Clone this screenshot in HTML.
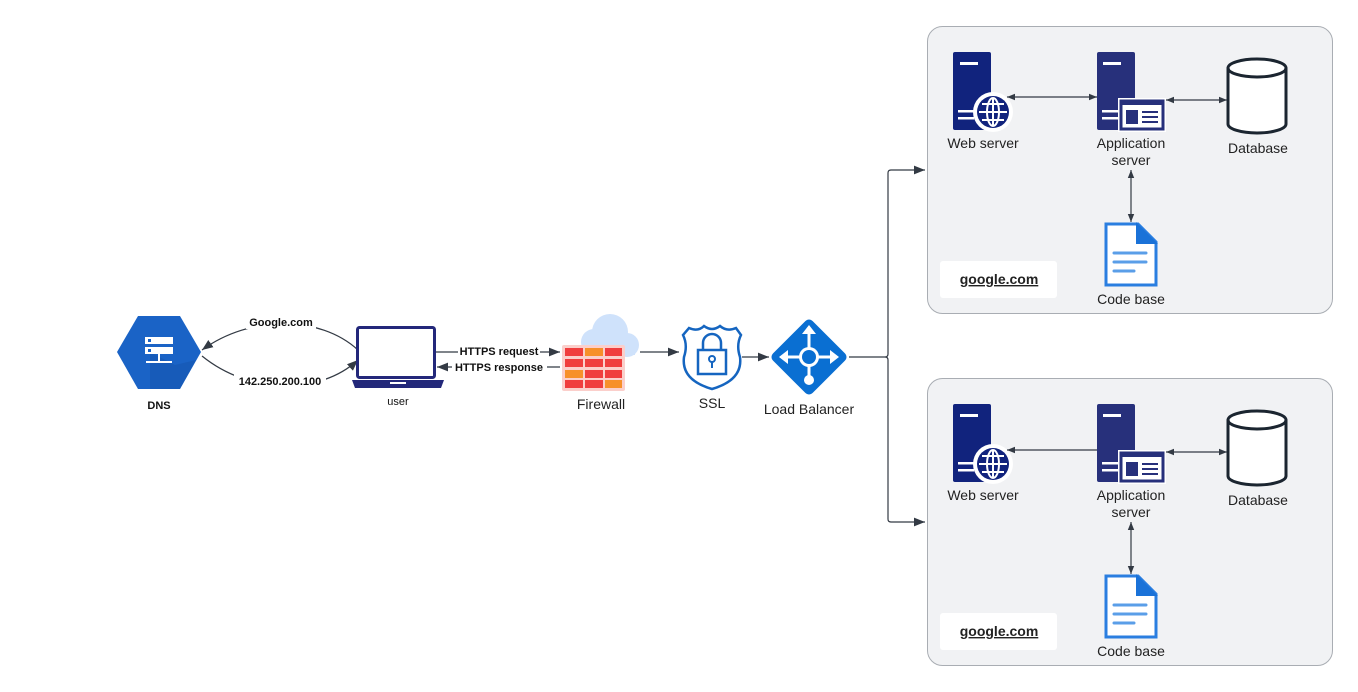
<!DOCTYPE html>
<html><head><meta charset="utf-8"><style>
html,body{margin:0;padding:0;background:#fff;}
svg{display:block;font-family:"Liberation Sans",Arial,sans-serif;}
</style></head><body>
<svg width="1358" height="692" viewBox="0 0 1358 692" xmlns="http://www.w3.org/2000/svg">
<defs>
<marker id="ah" viewBox="0 0 10 10" refX="10" refY="5" markerWidth="8" markerHeight="8" markerUnits="userSpaceOnUse" orient="auto-start-reverse"><path d="M0,1 L10,5 L0,9 z" fill="#333a44"/></marker>
<marker id="ahb" viewBox="0 0 10 10" refX="10" refY="5" markerWidth="11" markerHeight="11" markerUnits="userSpaceOnUse" orient="auto-start-reverse"><path d="M0,1 L10,5 L0,9 z" fill="#333a44"/></marker>
</defs>
<g id="panel">
  <rect x="927.5" y="26.5" width="405" height="287" rx="15" fill="#f1f2f4" stroke="#a9adb3" stroke-width="1"/>
  <rect x="953" y="52" width="38" height="78" rx="2" fill="#11237d"/>
  <rect x="960" y="62" width="18" height="3" fill="#fff"/>
  <rect x="958" y="110" width="16" height="2.5" fill="#fff"/>
  <rect x="958" y="117" width="16" height="2.5" fill="#fff"/>
  <circle cx="993" cy="112" r="20" fill="#fff"/>
  <circle cx="993" cy="112" r="16" fill="#11237d"/>
  <g stroke="#fff" stroke-width="2" fill="none">
    <ellipse cx="993" cy="112" rx="6" ry="14"/>
    <line x1="993" y1="98" x2="993" y2="126"/>
    <line x1="979" y1="112" x2="1007" y2="112"/>
    <line x1="982" y1="104" x2="1004" y2="104"/>
    <line x1="982" y1="120" x2="1004" y2="120"/>
  </g>
  <rect x="1097" y="52" width="38" height="78" rx="2" fill="#27307b"/>
  <rect x="1103" y="62" width="18" height="3" fill="#fff"/>
  <rect x="1102" y="110" width="16" height="2.5" fill="#fff"/>
  <rect x="1102" y="117" width="16" height="2.5" fill="#fff"/>
  <rect x="1118" y="98" width="48" height="34" fill="#fff"/>
  <rect x="1121" y="101" width="42" height="28" fill="#fff" stroke="#27307b" stroke-width="3"/>
  <rect x="1121" y="101" width="42" height="4" fill="#27307b"/>
  <rect x="1126" y="110" width="12" height="14" fill="#27307b"/>
  <g fill="#27307b"><rect x="1142" y="111" width="16" height="2"/><rect x="1142" y="116" width="16" height="2"/><rect x="1142" y="121" width="16" height="2"/></g>
  <path d="M1228,68 L1228,124 A29,9 0 0 0 1286,124 L1286,68" fill="#fff" stroke="#1b2530" stroke-width="3"/>
  <ellipse cx="1257" cy="68" rx="29" ry="9" fill="#fff" stroke="#1b2530" stroke-width="3"/>
  <path d="M1106,224 L1138,224 L1156,242 L1156,285 L1106,285 Z" fill="#fff" stroke="#2a7ee0" stroke-width="3"/>
  <path d="M1136,222 L1158,244 L1136,244 Z" fill="#1a72d8"/>
  <g stroke="#5a9ee8" stroke-width="3" stroke-linecap="round"><line x1="1114" y1="253" x2="1146" y2="253"/><line x1="1114" y1="262" x2="1146" y2="262"/><line x1="1114" y1="271" x2="1134" y2="271"/></g>
  <rect x="940" y="261" width="117" height="37" rx="3" fill="#fff"/>
  <text x="999" y="284" font-size="14" font-weight="bold" text-anchor="middle" fill="#222" text-decoration="underline">google.com</text>
  <text x="983" y="148" font-size="14" text-anchor="middle" fill="#222">Web server</text>
  <text x="1131" y="148" font-size="14" text-anchor="middle" fill="#222">Application</text>
  <text x="1131" y="165" font-size="14" text-anchor="middle" fill="#222">server</text>
  <text x="1258" y="153" font-size="14" text-anchor="middle" fill="#222">Database</text>
  <text x="1131" y="304" font-size="14" text-anchor="middle" fill="#222">Code base</text>
  <line x1="1131" y1="170" x2="1131" y2="222" stroke="#333a44" stroke-width="1.2" marker-start="url(#ah)" marker-end="url(#ah)"/>
  <line x1="1166" y1="100" x2="1227" y2="100" stroke="#333a44" stroke-width="1.2" marker-start="url(#ah)" marker-end="url(#ah)"/>
</g>
<line x1="1007" y1="97" x2="1097" y2="97" stroke="#333a44" stroke-width="1.2" marker-start="url(#ah)" marker-end="url(#ah)"/>

<g transform="translate(0,352)">
  <rect x="927.5" y="26.5" width="405" height="287" rx="15" fill="#f1f2f4" stroke="#a9adb3" stroke-width="1"/>
  <rect x="953" y="52" width="38" height="78" rx="2" fill="#11237d"/>
  <rect x="960" y="62" width="18" height="3" fill="#fff"/>
  <rect x="958" y="110" width="16" height="2.5" fill="#fff"/>
  <rect x="958" y="117" width="16" height="2.5" fill="#fff"/>
  <circle cx="993" cy="112" r="20" fill="#fff"/>
  <circle cx="993" cy="112" r="16" fill="#11237d"/>
  <g stroke="#fff" stroke-width="2" fill="none">
    <ellipse cx="993" cy="112" rx="6" ry="14"/>
    <line x1="993" y1="98" x2="993" y2="126"/>
    <line x1="979" y1="112" x2="1007" y2="112"/>
    <line x1="982" y1="104" x2="1004" y2="104"/>
    <line x1="982" y1="120" x2="1004" y2="120"/>
  </g>
  <rect x="1097" y="52" width="38" height="78" rx="2" fill="#27307b"/>
  <rect x="1103" y="62" width="18" height="3" fill="#fff"/>
  <rect x="1102" y="110" width="16" height="2.5" fill="#fff"/>
  <rect x="1102" y="117" width="16" height="2.5" fill="#fff"/>
  <rect x="1118" y="98" width="48" height="34" fill="#fff"/>
  <rect x="1121" y="101" width="42" height="28" fill="#fff" stroke="#27307b" stroke-width="3"/>
  <rect x="1121" y="101" width="42" height="4" fill="#27307b"/>
  <rect x="1126" y="110" width="12" height="14" fill="#27307b"/>
  <g fill="#27307b"><rect x="1142" y="111" width="16" height="2"/><rect x="1142" y="116" width="16" height="2"/><rect x="1142" y="121" width="16" height="2"/></g>
  <path d="M1228,68 L1228,124 A29,9 0 0 0 1286,124 L1286,68" fill="#fff" stroke="#1b2530" stroke-width="3"/>
  <ellipse cx="1257" cy="68" rx="29" ry="9" fill="#fff" stroke="#1b2530" stroke-width="3"/>
  <path d="M1106,224 L1138,224 L1156,242 L1156,285 L1106,285 Z" fill="#fff" stroke="#2a7ee0" stroke-width="3"/>
  <path d="M1136,222 L1158,244 L1136,244 Z" fill="#1a72d8"/>
  <g stroke="#5a9ee8" stroke-width="3" stroke-linecap="round"><line x1="1114" y1="253" x2="1146" y2="253"/><line x1="1114" y1="262" x2="1146" y2="262"/><line x1="1114" y1="271" x2="1134" y2="271"/></g>
  <rect x="940" y="261" width="117" height="37" rx="3" fill="#fff"/>
  <text x="999" y="284" font-size="14" font-weight="bold" text-anchor="middle" fill="#222" text-decoration="underline">google.com</text>
  <text x="983" y="148" font-size="14" text-anchor="middle" fill="#222">Web server</text>
  <text x="1131" y="148" font-size="14" text-anchor="middle" fill="#222">Application</text>
  <text x="1131" y="165" font-size="14" text-anchor="middle" fill="#222">server</text>
  <text x="1258" y="153" font-size="14" text-anchor="middle" fill="#222">Database</text>
  <text x="1131" y="304" font-size="14" text-anchor="middle" fill="#222">Code base</text>
  <line x1="1131" y1="170" x2="1131" y2="222" stroke="#333a44" stroke-width="1.2" marker-start="url(#ah)" marker-end="url(#ah)"/>
  <line x1="1166" y1="100" x2="1227" y2="100" stroke="#333a44" stroke-width="1.2" marker-start="url(#ah)" marker-end="url(#ah)"/>
  <line x1="1097" y1="98" x2="1007" y2="98" stroke="#333a44" stroke-width="1.2" marker-end="url(#ah)"/>
</g>

<!-- DNS -->
<polygon points="117,352 138,316 180,316 201,352 180,389 138,389" fill="#1a63c6"/>
<polygon points="150,352 175,365 196,360 180,389 150,389" fill="#1556b0" opacity="0.6"/>
<g fill="#fff"><rect x="145" y="337" width="28" height="7"/><rect x="145" y="347" width="28" height="7"/><rect x="158" y="354" width="2" height="7"/><rect x="146" y="361" width="26" height="2"/></g>
<g fill="#1a63c6"><rect x="148" y="339" width="3" height="3"/><rect x="148" y="349" width="3" height="3"/></g>
<text x="159" y="409" font-size="11" font-weight="bold" text-anchor="middle" fill="#111">DNS</text>

<path d="M358,350 C320,315 250,315 202,350" fill="none" stroke="#333a44" stroke-width="1.2" marker-end="url(#ahb)"/>
<path d="M202,356 C250,395 320,395 358,360" fill="none" stroke="#333a44" stroke-width="1.2" marker-end="url(#ahb)"/>
<rect x="246" y="314" width="70" height="15" fill="#fff"/>
<text x="281" y="326" font-size="11" font-weight="bold" text-anchor="middle" fill="#111">Google.com</text>
<rect x="234" y="374" width="92" height="15" fill="#fff"/>
<text x="280" y="385" font-size="11" font-weight="bold" text-anchor="middle" fill="#111">142.250.200.100</text>

<!-- laptop -->
<rect x="357.5" y="327.5" width="77" height="50" rx="2" fill="#fff" stroke="#23287a" stroke-width="3"/>
<path d="M352,380 L444,380 L441,388 L355,388 Z" fill="#23287a"/>
<rect x="390" y="382" width="16" height="2" fill="#fff"/>
<text x="398" y="405" font-size="11" text-anchor="middle" fill="#111">user</text>

<line x1="436" y1="352" x2="560" y2="352" stroke="#333a44" stroke-width="1.2" marker-end="url(#ahb)"/>
<line x1="560" y1="367" x2="437" y2="367" stroke="#333a44" stroke-width="1.2" marker-end="url(#ahb)"/>
<rect x="458" y="345" width="82" height="13" fill="#fff"/>
<text x="499" y="355" font-size="11" font-weight="bold" text-anchor="middle" fill="#111">HTTPS request</text>
<rect x="452" y="360" width="95" height="13" fill="#fff"/>
<text x="499" y="371" font-size="11" font-weight="bold" text-anchor="middle" fill="#111">HTTPS response</text>

<!-- firewall -->
<g fill="#cfe2fb"><circle cx="610" cy="332" r="18"/><circle cx="594" cy="342" r="13"/><circle cx="627" cy="345" r="12"/><rect x="590" y="340" width="45" height="15"/></g>
<rect x="562" y="345" width="63" height="46" rx="2" fill="#fbcfcb"/>
<rect x="565" y="348" width="18" height="8" fill="#f03e3e"/><rect x="585" y="348" width="18" height="8" fill="#f7902a"/><rect x="605" y="348" width="17" height="8" fill="#f03e3e"/>
<rect x="565" y="359" width="18" height="8" fill="#f03e3e"/><rect x="585" y="359" width="18" height="8" fill="#f03e3e"/><rect x="605" y="359" width="17" height="8" fill="#f03e3e"/>
<rect x="565" y="370" width="18" height="8" fill="#f7902a"/><rect x="585" y="370" width="18" height="8" fill="#f03e3e"/><rect x="605" y="370" width="17" height="8" fill="#f03e3e"/>
<rect x="565" y="380" width="18" height="8" fill="#f03e3e"/><rect x="585" y="380" width="18" height="8" fill="#f03e3e"/><rect x="605" y="380" width="17" height="8" fill="#f7902a"/>
<text x="601" y="409" font-size="14" text-anchor="middle" fill="#222">Firewall</text>
<line x1="640" y1="352" x2="679" y2="352" stroke="#333a44" stroke-width="1.2" marker-end="url(#ahb)"/>

<!-- SSL -->
<path d="M689,328 Q698,332 704,326 Q712,332 720,326 Q727,332 736,328 L741,335 Q736,345 740,357 Q743,380 712,389 Q681,380 684,357 Q688,345 683,335 Z" fill="#fff" stroke="#1565c0" stroke-width="2.5"/>
<rect x="698" y="350" width="28" height="24" fill="none" stroke="#1565c0" stroke-width="2.5"/>
<path d="M703,350 L703,343 A9,9 0 0 1 721,343 L721,350" fill="none" stroke="#1565c0" stroke-width="2.5"/>
<circle cx="712" cy="359" r="3" fill="none" stroke="#1565c0" stroke-width="2"/>
<line x1="712" y1="362" x2="712" y2="368" stroke="#1565c0" stroke-width="2"/>
<text x="712" y="408" font-size="14" text-anchor="middle" fill="#222">SSL</text>
<line x1="742" y1="357" x2="769" y2="357" stroke="#333a44" stroke-width="1.2" marker-end="url(#ahb)"/>

<!-- LB -->
<rect x="781" y="329" width="56" height="56" rx="5" transform="rotate(45 809 357)" fill="#0a6fd2"/>
<g stroke="#fff" stroke-width="3"><line x1="809" y1="330" x2="809" y2="380"/><line x1="782" y1="357" x2="836" y2="357"/></g>
<g fill="#fff"><polygon points="809,325 802,334 816,334"/><polygon points="779,357 788,350 788,364"/><polygon points="839,357 830,350 830,364"/><circle cx="809" cy="380" r="5"/></g>
<circle cx="809" cy="357" r="10" fill="#fff"/><circle cx="809" cy="357" r="7" fill="#0a6fd2"/>
<text x="809" y="414" font-size="14" text-anchor="middle" fill="#222">Load Balancer</text>

<path d="M849,357 L885,357 Q888,357 888,354 L888,173 Q888,170 891,170 L925,170" fill="none" stroke="#333a44" stroke-width="1.2" marker-end="url(#ahb)"/>
<path d="M885,357 Q888,357 888,360 L888,519 Q888,522 891,522 L925,522" fill="none" stroke="#333a44" stroke-width="1.2" marker-end="url(#ahb)"/>
</svg>
</body></html>
